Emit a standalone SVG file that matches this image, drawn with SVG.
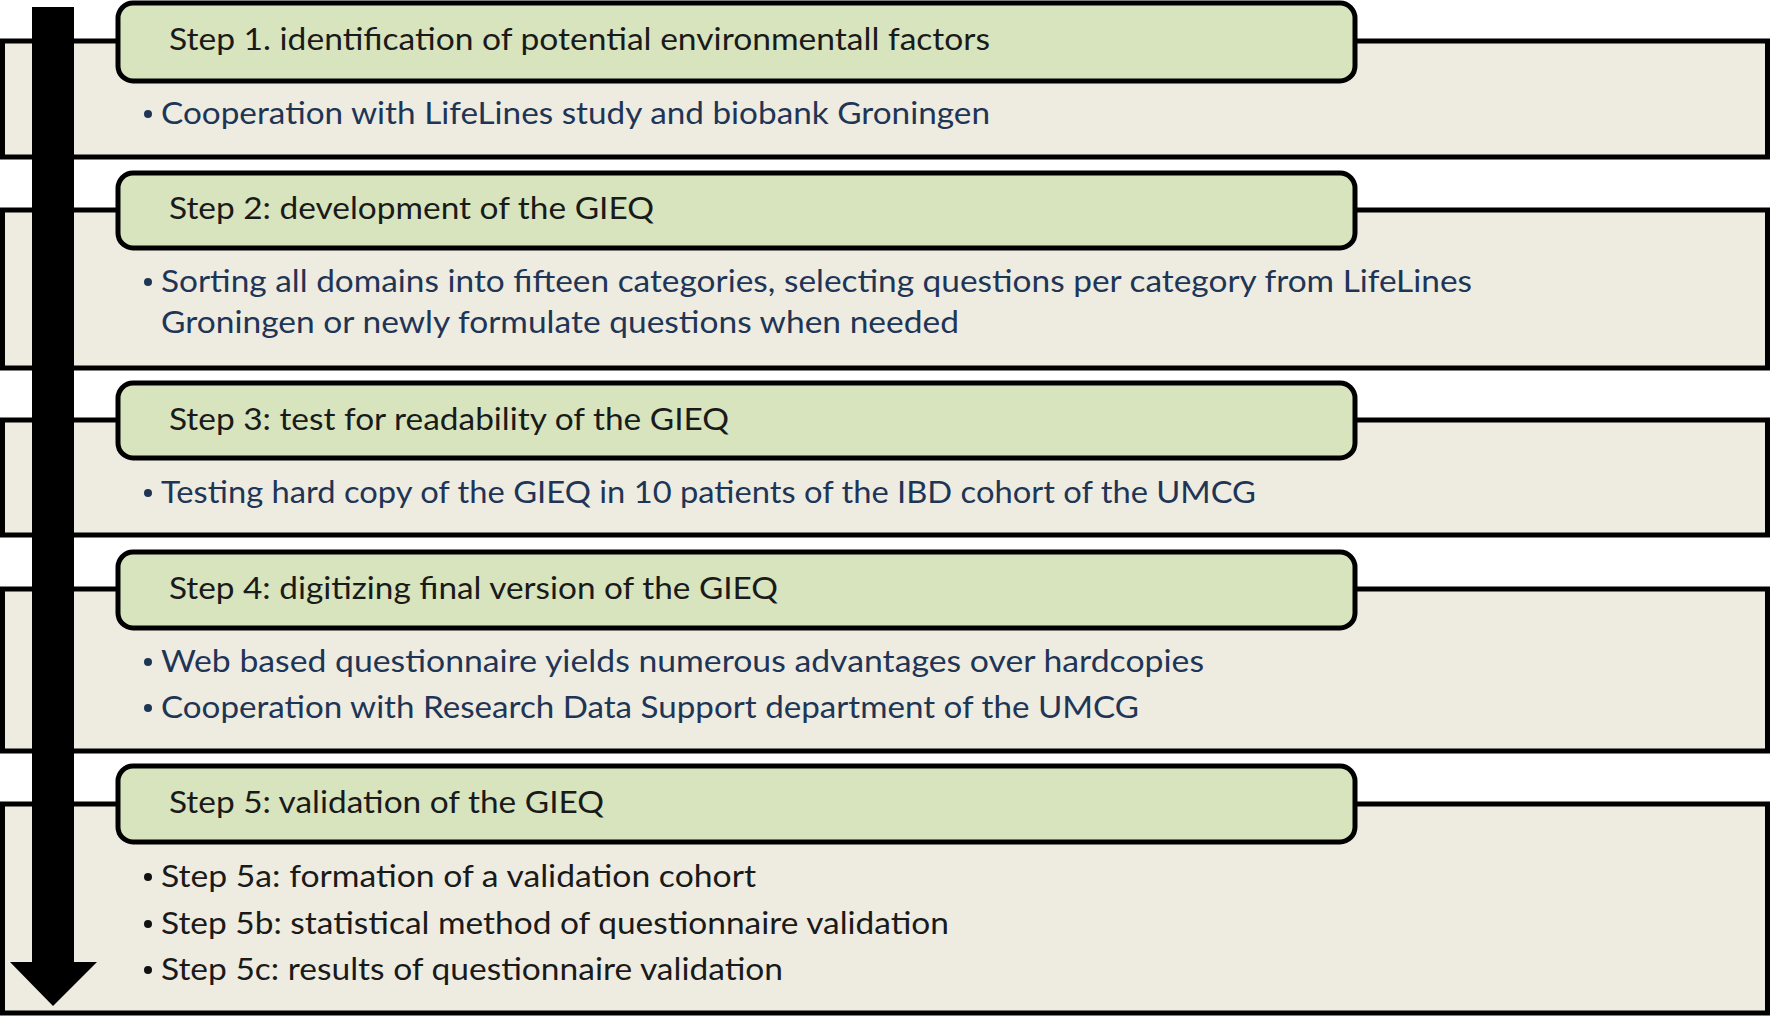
<svg xmlns="http://www.w3.org/2000/svg" width="1770" height="1016" viewBox="0 0 1770 1016">
<style>
.outer{fill:#eeece1;stroke:#000;stroke-width:5}
.head{fill:#d7e4bd;stroke:#000;stroke-width:5}
.ht{font-family:Lato,"Open Sans","Liberation Sans",sans-serif;font-size:31px;fill:#1a1a1a}
.bt{font-family:Lato,"Open Sans","Liberation Sans",sans-serif;font-size:31px;fill:#1f3556}
.bu{fill:#1f3556}
</style>
<rect x="0" y="0" width="1770" height="1016" fill="#fff"/>
<g id="step1">
<rect class="outer" x="2.5" y="41" width="1765" height="116"/>
<rect class="head" x="118" y="3" width="1237" height="78" rx="15"/>
<text class="ht" x="169" y="50" textLength="821" lengthAdjust="spacingAndGlyphs">Step 1. identification of potential environmentall factors</text>
<circle class="bu" cx="148" cy="114" r="4"/>
<text class="bt" x="161" y="124" textLength="829" lengthAdjust="spacingAndGlyphs">Cooperation with LifeLines study and biobank Groningen</text>
</g>
<g id="step2">
<rect class="outer" x="2.5" y="210" width="1765" height="158"/>
<rect class="head" x="118" y="173" width="1237" height="75" rx="15"/>
<text class="ht" x="169" y="219" textLength="485" lengthAdjust="spacingAndGlyphs">Step 2: development of the GIEQ</text>
<circle class="bu" cx="148" cy="282" r="4"/>
<text class="bt" x="161" y="292" textLength="1311" lengthAdjust="spacingAndGlyphs">Sorting all domains into fifteen categories, selecting questions per category from LifeLines</text>
<text class="bt" x="161" y="333" textLength="798" lengthAdjust="spacingAndGlyphs">Groningen or newly formulate questions when needed</text>
</g>
<g id="step3">
<rect class="outer" x="2.5" y="420" width="1765" height="115"/>
<rect class="head" x="118" y="383" width="1237" height="75" rx="15"/>
<text class="ht" x="169" y="430" textLength="560" lengthAdjust="spacingAndGlyphs">Step 3: test for readability of the GIEQ</text>
<circle class="bu" cx="148" cy="493" r="4"/>
<text class="bt" x="161" y="503" textLength="1095" lengthAdjust="spacingAndGlyphs">Testing hard copy of the GIEQ in 10 patients of the IBD cohort of the UMCG</text>
</g>
<g id="step4">
<rect class="outer" x="2.5" y="589" width="1765" height="162"/>
<rect class="head" x="118" y="552" width="1237" height="76" rx="15"/>
<text class="ht" x="169" y="599" textLength="609" lengthAdjust="spacingAndGlyphs">Step 4: digitizing final version of the GIEQ</text>
<circle class="bu" cx="148" cy="662" r="4"/>
<text class="bt" x="161" y="672" textLength="1043" lengthAdjust="spacingAndGlyphs">Web based questionnaire yields numerous advantages over hardcopies</text>
<circle class="bu" cx="148" cy="708" r="4"/>
<text class="bt" x="161" y="718" textLength="978" lengthAdjust="spacingAndGlyphs">Cooperation with Research Data Support department of the UMCG</text>
</g>
<g id="step5">
<rect class="outer" x="2.5" y="804" width="1765" height="209"/>
<rect class="head" x="118" y="766" width="1237" height="76" rx="15"/>
<text class="ht" x="169" y="813" textLength="435" lengthAdjust="spacingAndGlyphs">Step 5: validation of the GIEQ</text>
<circle cx="148" cy="877" r="4" fill="#111"/>
<text class="ht" x="161" y="887" textLength="595" lengthAdjust="spacingAndGlyphs">Step 5a: formation of a validation cohort</text>
<circle cx="148" cy="924" r="4" fill="#111"/>
<text class="ht" x="161" y="934" textLength="788" lengthAdjust="spacingAndGlyphs">Step 5b: statistical method of questionnaire validation</text>
<circle cx="148" cy="970" r="4" fill="#111"/>
<text class="ht" x="161" y="980" textLength="622" lengthAdjust="spacingAndGlyphs">Step 5c: results of questionnaire validation</text>
</g>
<g id="connectors">
<polygon fill="#000" points="32,7 74,7 74,962 97,962 53,1006 10,962 32,962"/>
</g>
</svg>
